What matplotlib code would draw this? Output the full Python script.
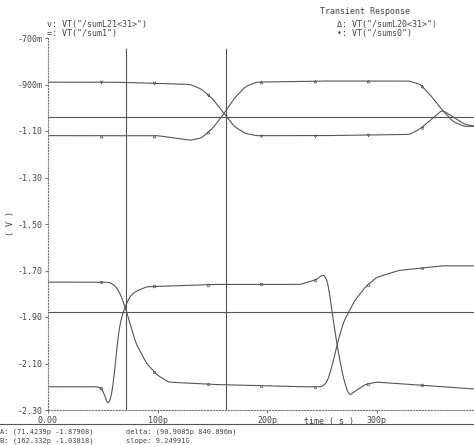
import numpy as np
import matplotlib
matplotlib.use("Agg")
import matplotlib.pyplot as plt

# hand-read waveform points (time in ps, volts)
t_a = [0, 20, 60, 100, 130, 140, 150, 160, 170, 180, 190, 250, 330, 340, 350, 360, 370, 380, 390]
v_a = [-0.89, -0.89, -0.89, -0.895, -0.90, -0.92, -0.96, -1.02, -1.08, -1.11, -1.12, -1.12, -1.115, -1.09, -1.05, -1.01, -1.04, -1.07, -1.08]
t_b = [0, 20, 60, 100, 130, 140, 150, 160, 170, 180, 190, 250, 330, 340, 350, 360, 370, 380, 390]
v_b = [-1.12, -1.12, -1.12, -1.12, -1.14, -1.13, -1.09, -1.03, -0.96, -0.91, -0.89, -0.885, -0.885, -0.90, -0.95, -1.01, -1.06, -1.08, -1.08]
t_c = [0, 50, 55, 60, 65, 70, 75, 80, 90, 100, 110, 150, 230, 250, 255, 260, 265, 270, 280, 290, 300, 320, 360, 390]
v_c = [-1.75, -1.75, -1.75, -1.76, -1.79, -1.85, -1.93, -2.01, -2.10, -2.15, -2.18, -2.19, -2.20, -2.20, -2.18, -2.10, -2.00, -1.92, -1.83, -1.77, -1.73, -1.70, -1.68, -1.68]
t_d = [0, 45, 50, 53, 56, 60, 63, 66, 70, 75, 80, 90, 150, 230, 245, 250, 253, 256, 260, 265, 270, 275, 280, 290, 300, 360, 390]
v_d = [-2.20, -2.20, -2.21, -2.26, -2.28, -2.18, -2.02, -1.92, -1.86, -1.81, -1.79, -1.77, -1.76, -1.76, -1.74, -1.72, -1.72, -1.76, -1.90, -2.05, -2.17, -2.24, -2.22, -2.19, -2.18, -2.20, -2.21]
cursor_x = [71.4239, 162.332]
cursor_y = [-1.04, -1.87908]

fig = plt.figure(figsize=(4.74, 4.45), dpi=100)
ax = fig.add_axes([48/474, 35/445, 1 - 48/474, (410-38)/445])
ax.set_xlim(0, 389)
ax.set_ylim(-2.30, -0.70)
fs = 6
mono = {"family": "DejaVu Sans Mono", "size": fs, "color": "#444"}
small = {"family": "DejaVu Sans Mono", "size": 5, "color": "#444"}

def smooth(t, v):
    tt = np.linspace(t[0], t[-1], 800)
    vv = np.interp(tt, t, v)
    k = np.ones(9) / 9
    vv2 = np.convolve(np.pad(vv, 4, mode="edge"), k, mode="valid")
    return tt, vv2

mk = ["v", "^", "s", "o"]
for (t, v), m in zip([(t_a, v_a), (t_b, v_b), (t_c, v_c), (t_d, v_d)], mk):
    tt, vv = smooth(t, v)
    ax.plot(tt, vv, color="#555", lw=0.8)
    idx = np.linspace(0, len(tt) - 1, 9).astype(int)[1:-1]
    ax.plot(tt[idx], vv[idx], ls="none", marker=m, ms=2, color="#555", mfc="none", mew=0.5)

for x in cursor_x:
    ax.axvline(x, color="#555", lw=0.8, ymax=0.97)
for y in cursor_y:
    ax.axhline(y, color="#555", lw=0.8)

for s in ["top", "right"]:
    ax.spines[s].set_visible(False)
ax.spines["left"].set_linestyle(":")
ax.spines["bottom"].set_linestyle(":")
ax.spines["left"].set_color("#777")
ax.spines["bottom"].set_color("#777")
yt = [-0.7, -0.9, -1.1, -1.3, -1.5, -1.7, -1.9, -2.1, -2.3]
ax.set_yticks(yt)
ax.set_yticklabels(["-700m", "-900m", "-1.10", "-1.30", "-1.50", "-1.70", "-1.90", "-2.10", "-2.30"], fontdict=mono)
ax.set_xticks([0, 100, 200, 300])
ax.set_xticklabels(["0.00", "100p", "200p", "300p"], fontdict=mono)
ax.tick_params(length=2, color="#777", pad=2)
ax.set_ylabel("( V )", fontdict=mono, labelpad=2)
fig.text(0.695, 0.062, "time ( s )", ha="center", va="top", **mono)

fig.text(0.77, 0.985, "Transient Response", ha="center", va="top", **mono)
fig.text(0.10, 0.955, "v: VT(\"/sumL21<31>\")", va="top", **mono)
fig.text(0.10, 0.935, "=: VT(\"/sum1\")", va="top", **mono)
fig.text(0.71, 0.955, "\u0394: VT(\"/sumL20<31>\")", va="top", **mono)
fig.text(0.71, 0.935, "\u2022: VT(\"/sums0\")", va="top", **mono)
fig.text(0.0, 0.022, "A: (71.4239p -1.87908)", va="bottom", **small)
fig.text(0.0, 0.002, "B: (162.332p -1.03818)", va="bottom", **small)
fig.text(0.265, 0.022, "delta: (90.9085p 840.896m)", va="bottom", **small)
fig.text(0.265, 0.002, "slope: 9.24991G", va="bottom", **small)
fig.add_artist(plt.Line2D([0, 1], [0.048, 0.048], color="#555", lw=0.8))
fig.savefig("out.png", dpi=100)
